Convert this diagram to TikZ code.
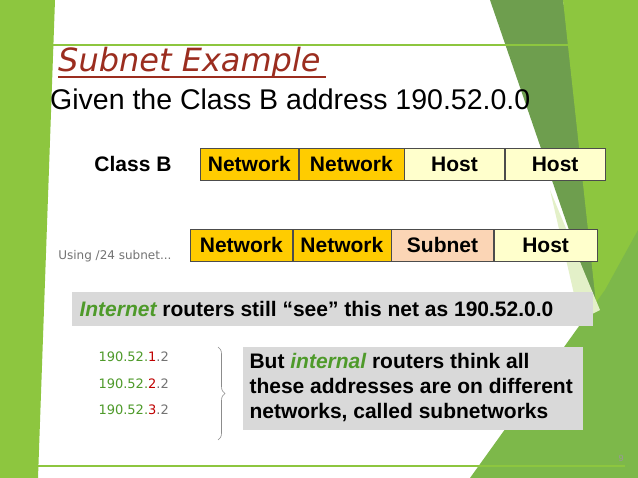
\documentclass[tikz,border=0pt]{standalone}
\usepackage{fontspec}
\setmainfont{Liberation Sans}
\newfontfamily\titlefont{DejaVu Sans}
\usetikzlibrary{decorations.pathreplacing}
\definecolor{gA}{HTML}{8DC63F}
\definecolor{gDark}{HTML}{6E9E4E}
\definecolor{gMid}{HTML}{7DB84A}
\definecolor{gPale}{HTML}{E3F0C8}
\definecolor{ttl}{HTML}{9B2D1F}
\definecolor{yel}{HTML}{FFCC00}
\definecolor{pyel}{HTML}{FFFFCC}
\definecolor{ora}{HTML}{FBD5B5}
\definecolor{gry}{HTML}{D9D9D9}
\definecolor{gtxt}{HTML}{4E9A2A}
\definecolor{rtxt}{HTML}{C00000}
\tikzset{
  fld/.style={draw=black!70, line width=0.6pt, minimum height=32pt, inner sep=0pt, font=\fontsize{21}{24}\selectfont\bfseries, anchor=west},
  addr/.style={anchor=west, font=\titlefont\fontsize{13}{15}\selectfont, text=gtxt},
  note/.style={fill=gry, inner sep=0pt}
}
\begin{document}
\begin{tikzpicture}[x=1pt,y=-1pt]
\useasboundingbox (0,0) rectangle (638,478);
\fill[white] (0,0) rectangle (638,478);
% background shapes
\fill[gA] (0,0) -- (55,0) -- (38,478) -- (0,478) -- cycle;
\fill[gDark] (490,0) -- (563,0) -- (615,320) -- (600,320) -- cycle;
\fill[gA] (563,0) -- (638,0) -- (638,478) -- (615,478) -- cycle;
\fill[gMid] (470,478) -- (638,478) -- (638,230) -- (605,290) -- cycle;
\fill[gPale] (550,190) -- (600,310) -- (580,320) -- cycle;
\draw[gA, line width=2pt] (12,45) -- (625,45);
\draw[gA, line width=1.5pt] (20,466) -- (625,466);
% title
\node[anchor=base west, inner sep=0pt, text=ttl, font=\titlefont\itshape\fontsize{32}{36}\selectfont] (title) at (58,72) {Subnet Example};
\draw[ttl, line width=1.8pt] (58,77) -- (326,77);
\node[anchor=base west, inner sep=0pt, font=\fontsize{28.5}{32}\selectfont] (given) at (50,110) {Given the Class B address 190.52.0.0};
% row 1
\node[anchor=east, font=\fontsize{21}{24}\selectfont\bfseries] (cb) at (175,164) {Class B};
\node[fld, fill=yel, minimum width=98pt] (n1) at (200,164) {Network};
\node[fld, fill=yel, minimum width=105pt] (n2) at (n1.east) {Network};
\node[fld, fill=pyel, minimum width=100pt] (h1) at (n2.east) {Host};
\node[fld, fill=pyel, minimum width=100pt] (h2) at (h1.east) {Host};
% row 2
\node[anchor=east, font=\titlefont\fontsize{12}{14}\selectfont, text=black!55] (use) at (175,256) {Using /24 subnet...};
\node[fld, fill=yel, minimum width=102pt] (m1) at (190,245) {Network};
\node[fld, fill=yel, minimum width=98pt] (m2) at (m1.east) {Network};
\node[fld, fill=ora, minimum width=102pt] (s1) at (m2.east) {Subnet};
\node[fld, fill=pyel, minimum width=103pt] (k1) at (s1.east) {Host};
% internet box
\node[note, anchor=west, minimum width=521pt, minimum height=34pt] (inet) at (72,309) {};
\node[anchor=west, font=\fontsize{21}{24}\selectfont\bfseries] (inettxt) at (76,309) {\textcolor{gtxt}{\itshape Internet} routers still “see” this net as 190.52.0.0};
% addresses
\node[addr] (a1) at (95,357) {190.52.\textcolor{rtxt}{1}\textcolor{black!55}{.2}};
\node[addr] (a2) at (95,384) {190.52.\textcolor{rtxt}{2}\textcolor{black!55}{.2}};
\node[addr] (a3) at (95,410) {190.52.\textcolor{rtxt}{3}\textcolor{black!55}{.2}};
\coordinate (bt) at (218,347);
\coordinate (bb) at (218,440);
\draw[black!45, line width=0.6pt, decorate, decoration={brace, amplitude=7pt}] (bt) -- (bb);
% internal box
\node[note, anchor=north west, minimum width=340pt, minimum height=83pt] (intb) at (243,347) {};
\node[anchor=west, align=left, font=\fontsize{21}{25}\selectfont\bfseries] (inttxt) at (246,388) {But \textcolor{gtxt}{\itshape internal} routers think all\\these addresses are on different\\networks, called subnetworks};
\node[text=black!40, font=\fontsize{9}{10}\selectfont] (pg) at (621,458) {9};
\end{tikzpicture}
\end{document}
